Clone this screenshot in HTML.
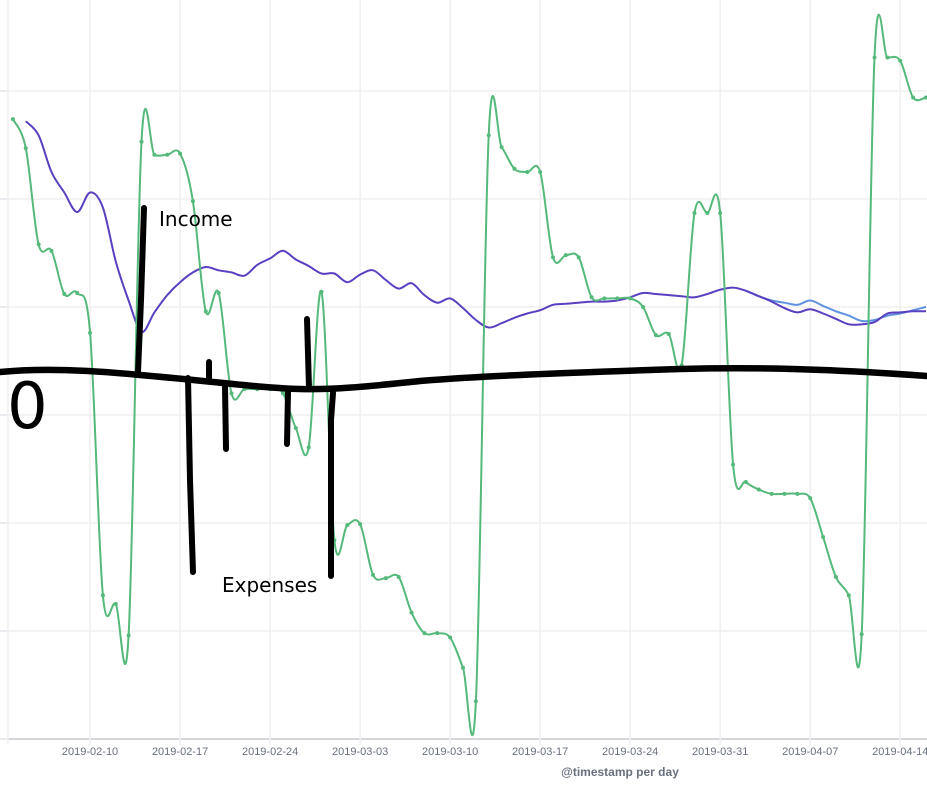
<!DOCTYPE html>
<html><head><meta charset="utf-8"><style>
html,body{margin:0;padding:0;background:#fff;}
svg{display:block;}
</style></head><body>
<svg id="chart" width="927" height="795" xmlns="http://www.w3.org/2000/svg" font-family="'Liberation Sans', sans-serif">
<g id="grid"></g>
<g id="series"></g>
<g id="xaxis"></g>
<text x="620" y="776" text-anchor="middle" font-size="12" font-weight="bold" fill="#69707d">@timestamp per day</text>
<g stroke="#000" fill="none" stroke-linecap="round" stroke-linejoin="round">
<path stroke-width="6.5" d="M0,372 C40,368 90,370 140,375 C200,380 260,388 300,389 C340,390 380,385 420,381 C480,376 560,373 680,369 C760,367 830,369 927,376"/>
<path stroke-width="6" d="M138,372 L141,300 L144,208"/>
<path stroke-width="6" d="M209,362 L209,378"/>
<path stroke-width="6" d="M188,378 L190,480 L193,572"/>
<path stroke-width="6" d="M225,386 L226,449"/>
<path stroke-width="6" d="M288,392 L287,444"/>
<path stroke-width="6" d="M307,319 L309,388"/>
<path stroke-width="6" d="M333,393 L331,420 L331,576"/>
</g>
<text x="159" y="226" font-size="20" font-family="'DejaVu Sans', sans-serif" fill="#000">Income</text>
<text x="222" y="592" font-size="20" font-family="'DejaVu Sans', sans-serif" fill="#000">Expenses</text>
<text x="7" y="428" font-size="64" font-family="'DejaVu Sans', sans-serif" fill="#000">0</text>
</svg>
<script>
const greenValues=[574,547,458,452,412,413,376,133,125,96,553,541,541,542,498,396,413,320,324,324,324,320,288,270,414,184,198,199,152,149,150,117,98,98,94,66,35,559,548,528,525,525,446,448,446,409,408,408,408,400,374,375,346,487,487,487,254,238,231,227,227,227,223,187,150,133,97,631,631,628,594,594];
const purpleStart=1;
const purpleValues=[572,559,525,506,488,506,492,442,406,377,395,411,423,432,437,434,432,429,439,445,452,444,438,431,431,423,430,434,425,417,422,411,404,408,399,388,381,385,390,394,397,402,403,404,405,405,406,409,413,412,411,410,409,412,416,418,415,410,405,399,395,398,394,389,384,384,386,394,395,396,396];
const blueStart=57;
const blueValues=[415,410,406,404,402,406,401,396,392,387,388,392,394,397,400];
const yTicks=[0,100,200,300,400,500,600];
const xTickLabels=['2019-02-10','2019-02-17','2019-02-24','2019-03-03','2019-03-10','2019-03-17','2019-03-24','2019-03-31','2019-04-07','2019-04-14'];
const xTickDays=[6,13,20,27,34,41,48,55,62,69];

const NS='http://www.w3.org/2000/svg';
const x=d=>12.9+d*12.86;
const y=v=>739-v*1.08;
function mk(tag,attrs,parent){const e=document.createElementNS(NS,tag);for(const k in attrs)e.setAttribute(k,attrs[k]);parent.appendChild(e);return e;}
const grid=document.getElementById('grid');
yTicks.forEach(t=>{
  const l=mk('line',{x1:8,x2:927,y1:y(t),y2:y(t),stroke:t===0?'#d3d6db':'#efefef','stroke-width':t===0?2:1.5},grid);
  
  
  const tk=mk('line',{x1:0,x2:8,y1:y(t),y2:y(t),stroke:'#d3d6db','stroke-width':1},grid);
  
  
});
const vl=mk('line',{x1:8,x2:8,y1:0,y2:745,stroke:'#efefef','stroke-width':1.5},grid);


const xa=document.getElementById('xaxis');
xTickDays.forEach((d,i)=>{
  const gl=mk('line',{x1:x(d),x2:x(d),y1:0,y2:745,stroke:'#efefef','stroke-width':1.5},grid);
  
  
  const t=mk('text',{x:x(d),y:755,'text-anchor':'middle','font-size':11,fill:'#69707d'},xa);
  t.textContent=xTickLabels[i];
  
  
});
function spline(pts){
  let d='M'+pts[0][0]+','+pts[0][1];
  for(let i=0;i<pts.length-1;i++){
    const p0=pts[i-1]||pts[i],p1=pts[i],p2=pts[i+1],p3=pts[i+2]||p2;
    const c1=[p1[0]+(p2[0]-p0[0])/6,p1[1]+(p2[1]-p0[1])/6];
    const c2=[p2[0]-(p3[0]-p1[0])/6,p2[1]-(p3[1]-p1[1])/6];
    d+=' C'+c1[0].toFixed(1)+','+c1[1].toFixed(1)+' '+c2[0].toFixed(1)+','+c2[1].toFixed(1)+' '+p2[0].toFixed(1)+','+p2[1].toFixed(1);
  }
  return d;
}
const sg=document.getElementById('series');
const gp=greenValues.map((v,i)=>[x(i),y(v)]);
const pp=purpleValues.map((v,i)=>[x(i+purpleStart),y(v)]);
const bp=blueValues.map((v,i)=>[x(i+blueStart),y(v)]);
const bl=mk('path',{d:spline(bp),fill:'none',stroke:'#6092e0','stroke-width':2},sg);


const pl=mk('path',{d:spline(pp),fill:'none',stroke:'#5a3fc0','stroke-width':2},sg);


const gl=mk('path',{d:spline(gp),fill:'none',stroke:'#54b97a','stroke-width':2},sg);


gp.forEach(p=>{
  const c=mk('circle',{cx:p[0],cy:p[1],r:2,fill:'#54b97a'},sg);
  
  
});
</script>
</body></html>
